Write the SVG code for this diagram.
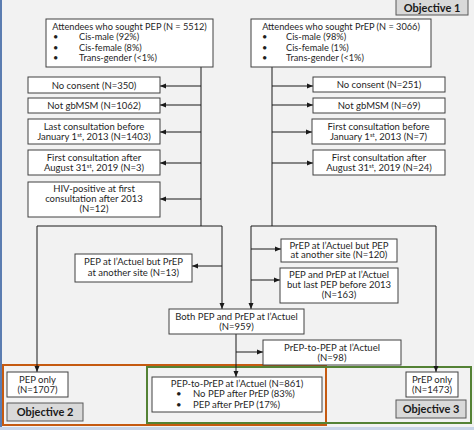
<svg xmlns="http://www.w3.org/2000/svg" width="474" height="430" viewBox="0 0 474 430">
<defs>
<marker id="ah" viewBox="0 0 6 6" refX="6" refY="3" markerWidth="6" markerHeight="6" orient="auto" markerUnits="userSpaceOnUse">
<path d="M0,0.5 L6,3 L0,5.5 Z" fill="#1a1a1a"/>
</marker>
<style>
.bg{fill:#f2f2f2}
.box{fill:#ffffff;stroke:#404040;stroke-width:1}
.obj{fill:#d9d9d9;stroke:#595959;stroke-width:1}
.t{font-family:Lato,"Liberation Sans",sans-serif;font-size:9.5px;fill:#1f1f1f}
.s{font-size:9.2px}
.c{text-anchor:middle}
.b{font-family:Lato,"Liberation Sans",sans-serif;font-size:11px;font-weight:bold;fill:#1a1a1a;text-anchor:middle}
.ln{fill:none;stroke:#1a1a1a;stroke-width:1}
.ar{fill:none;stroke:#1a1a1a;stroke-width:1;marker-end:url(#ah)}
.sup{font-size:6px}
</style>
</defs>
<rect class="bg" x="0" y="0" width="474" height="430"/>
<line x1="1" y1="0" x2="1" y2="430" stroke="#5b7db1" stroke-width="2"/>
<line x1="0" y1="428.5" x2="474" y2="428.5" stroke="#c9d5e8" stroke-width="3"/>

<g id="objective2-frame"><rect x="3" y="365" width="323" height="60" fill="none" stroke="#c55a11" stroke-width="2"/></g>
<g id="objective3-frame"><rect x="147" y="367" width="324" height="56" fill="none" stroke="#548235" stroke-width="2"/></g>

<g id="connectors">
<polyline class="ln" points="201,67 201,226"/>
<line class="ar" x1="201" y1="86" x2="160" y2="86"/>
<line class="ar" x1="201" y1="105" x2="160" y2="105"/>
<line class="ar" x1="201" y1="132" x2="160" y2="132"/>
<line class="ar" x1="201" y1="163" x2="160" y2="163"/>
<line class="ar" x1="201" y1="199" x2="160" y2="199"/>
<line class="ln" x1="37" y1="226" x2="222" y2="226"/>
<line class="ar" x1="37" y1="226" x2="37" y2="372"/>
<line class="ar" x1="222" y1="226" x2="222" y2="309"/>
<line class="ar" x1="222" y1="266" x2="192" y2="266"/>
<polyline class="ln" points="272,67 272,226"/>
<line class="ar" x1="272" y1="86" x2="313" y2="86"/>
<line class="ar" x1="272" y1="105" x2="313" y2="105"/>
<line class="ar" x1="272" y1="132" x2="312" y2="132"/>
<line class="ar" x1="272" y1="163" x2="313" y2="163"/>
<line class="ln" x1="251" y1="226" x2="436" y2="226"/>
<line class="ar" x1="436" y1="226" x2="436" y2="372"/>
<line class="ar" x1="251" y1="226" x2="251" y2="309"/>
<line class="ar" x1="251" y1="249" x2="281" y2="249"/>
<line class="ar" x1="251" y1="280" x2="280" y2="280"/>
<line class="ar" x1="236" y1="334" x2="236" y2="377"/>
<line class="ar" x1="236" y1="352" x2="263" y2="352"/>
</g>

<g id="objective1"><rect class="obj" x="396" y="-1" width="72" height="16"/><text class="b" x="432" y="11.5">Objective 1</text></g>

<g id="pep-attendees">
<rect class="box" x="46" y="19" width="167" height="48"/>
<text class="t s c" x="129.5" y="29.5">Attendees who sought PEP (N = 5512)</text>
<text class="t s" x="53" y="40">•</text><text class="t s" x="79" y="40">Cis-male (92%)</text>
<text class="t s" x="53" y="50.5">•</text><text class="t s" x="79" y="50.5">Cis-female (8%)</text>
<text class="t s" x="53" y="61">•</text><text class="t s" x="79" y="61">Trans-gender (&lt;1%)</text>
</g>

<g id="prep-attendees">
<rect class="box" x="251" y="19" width="180" height="48"/>
<text class="t s c" x="341" y="29.5">Attendees who sought PrEP (N = 3066)</text>
<text class="t s" x="262" y="40">•</text><text class="t s" x="286" y="40">Cis-male (98%)</text>
<text class="t s" x="262" y="50.5">•</text><text class="t s" x="286" y="50.5">Cis-female (1%)</text>
<text class="t s" x="262" y="61">•</text><text class="t s" x="286" y="61">Trans-gender (&lt;1%)</text>
</g>

<g id="pep-no-consent"><rect class="box" x="28" y="77" width="132" height="16"/><text class="t c" x="94" y="88.5">No consent (N=350)</text></g>
<g id="pep-not-gbmsm"><rect class="box" x="28" y="98" width="132" height="15"/><text class="t c" x="94" y="108.5">Not gbMSM (N=1062)</text></g>
<g id="pep-last-before-2013"><rect class="box" x="28" y="119" width="132" height="25"/>
<text class="t c" x="94" y="130">Last consultation before</text>
<text class="t c" x="94" y="140">January 1<tspan class="sup" dy="-3.5">st</tspan><tspan dy="3.5">, 2013 (N=1403)</tspan></text></g>
<g id="pep-first-after-2019"><rect class="box" x="28" y="150" width="132" height="25"/>
<text class="t c" x="94" y="161">First consultation after</text>
<text class="t c" x="94" y="171">August 31<tspan class="sup" dy="-3.5">st</tspan><tspan dy="3.5">, 2019 (N=3)</tspan></text></g>
<g id="pep-hiv-positive"><rect class="box" x="28" y="182" width="132" height="35"/>
<text class="t c" x="94" y="192">HIV-positive at first</text>
<text class="t c" x="94" y="202">consultation after 2013</text>
<text class="t c" x="94" y="212">(N=12)</text></g>

<g id="prep-no-consent"><rect class="box" x="313" y="77" width="132" height="15"/><text class="t c" x="379" y="88">No consent (N=251)</text></g>
<g id="prep-not-gbmsm"><rect class="box" x="313" y="98" width="132" height="15"/><text class="t c" x="379" y="108.5">Not gbMSM (N=69)</text></g>
<g id="prep-first-before-2013"><rect class="box" x="312" y="119" width="133" height="25"/>
<text class="t c" x="378.5" y="130">First consultation before</text>
<text class="t c" x="378.5" y="140">January 1<tspan class="sup" dy="-3.5">st</tspan><tspan dy="3.5">, 2013 (N=7)</tspan></text></g>
<g id="prep-first-after-2019"><rect class="box" x="313" y="150" width="132" height="25"/>
<text class="t c" x="379" y="161">First consultation after</text>
<text class="t c" x="379" y="171">August 31<tspan class="sup" dy="-3.5">st</tspan><tspan dy="3.5">, 2019 (N=24)</tspan></text></g>

<g id="pep-actuel-prep-elsewhere"><rect class="box" x="75" y="254" width="117" height="28"/>
<text class="t c" x="133.5" y="265">PEP at l’Actuel but PrEP</text>
<text class="t c" x="133.5" y="275.5">at another site (N=13)</text></g>
<g id="prep-actuel-pep-elsewhere"><rect class="box" x="281" y="239" width="116" height="23"/>
<text class="t c" x="339" y="248.5">PrEP at l’Actuel but PEP</text>
<text class="t c" x="339" y="258">at another site (N=120)</text></g>
<g id="pep-prep-before-2013"><rect class="box" x="280" y="268" width="118" height="35"/>
<text class="t c" x="339" y="278">PEP and PrEP at l’Actuel</text>
<text class="t c" x="339" y="288">but last PEP before 2013</text>
<text class="t c" x="339" y="298">(N=163)</text></g>

<g id="both"><rect class="box" x="169" y="309" width="135" height="25"/>
<text class="t c" x="236.5" y="320">Both PEP and PrEP at l’Actuel</text>
<text class="t c" x="236.5" y="330">(N=959)</text></g>

<g id="prep-to-pep"><rect class="box" x="263" y="340" width="138" height="25"/>
<text class="t c" x="332" y="351">PrEP-to-PEP at l’Actuel</text>
<text class="t c" x="332" y="361">(N=98)</text></g>

<g id="pep-only"><rect class="box" x="7" y="372" width="61" height="25"/>
<text class="t c" x="37.5" y="382.5">PEP only</text>
<text class="t c" x="37.5" y="393">(N=1707)</text></g>

<g id="pep-to-prep"><rect class="box" x="152" y="377" width="170" height="35"/>
<text class="t c" x="237" y="387">PEP-to-PrEP at l’Actuel (N=861)</text>
<text class="t" x="176" y="397">•</text><text class="t" x="193" y="397">No PEP after PrEP (83%)</text>
<text class="t" x="176" y="407.5">•</text><text class="t" x="193" y="407.5">PEP after PrEP (17%)</text></g>

<g id="prep-only"><rect class="box" x="406" y="372" width="52" height="25"/>
<text class="t c" x="432" y="382.5">PrEP only</text>
<text class="t c" x="432" y="393">(N=1473)</text></g>

<g id="objective2"><rect class="obj" x="7" y="403" width="76" height="18"/><text class="b" x="45" y="416">Objective 2</text></g>
<g id="objective3"><rect class="obj" x="396" y="400" width="70" height="18"/><text class="b" x="431" y="413">Objective 3</text></g>
</svg>
